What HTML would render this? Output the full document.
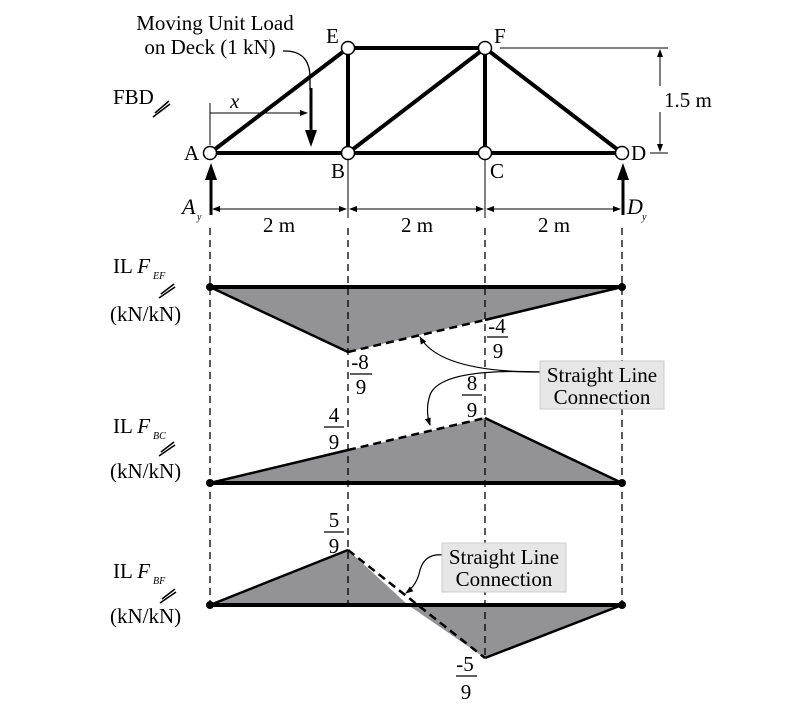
<!DOCTYPE html>
<html><head><meta charset="utf-8"><style>
html,body{margin:0;padding:0;background:#fff;}
svg{display:block;font-family:"Liberation Serif",serif;}
</style></head><body>
<svg width="800" height="715" viewBox="0 0 800 715" xmlns="http://www.w3.org/2000/svg">
<defs>
<marker id="sa" markerWidth="8" markerHeight="6" refX="7" refY="3" orient="auto" markerUnits="userSpaceOnUse"><path d="M0,0 L8,3 L0,6 Z" fill="#000"/></marker>
</defs>
<polygon points="210,287 348,352 622,287" fill="#939396"/>
<polygon points="210,483 485,418 622,483" fill="#939396"/>
<polygon points="210,605 348,550 408,605" fill="#939396"/>
<polygon points="408,605 485,658 622,605" fill="#939396"/>

<g stroke="#000" stroke-width="1.3" stroke-dasharray="7,5" fill="none">
<line x1="210" y1="228" x2="210" y2="605"/>
<line x1="348" y1="228" x2="348" y2="605"/>
<line x1="485" y1="228" x2="485" y2="658"/>
<line x1="622" y1="228" x2="622" y2="605"/>
</g>

<g stroke="#000" stroke-width="4" fill="none">
<line x1="210" y1="153" x2="622" y2="153"/>
<line x1="210" y1="153" x2="348" y2="48"/>
<line x1="348" y1="48" x2="485" y2="48"/>
<line x1="348" y1="48" x2="348" y2="153"/>
<line x1="348" y1="153" x2="485" y2="48"/>
<line x1="485" y1="48" x2="485" y2="153"/>
<line x1="485" y1="48" x2="622" y2="153"/>
</g>
<g fill="#fff" stroke="#000" stroke-width="1.5">
<circle cx="210" cy="153" r="6.5"/><circle cx="348" cy="153" r="6.5"/>
<circle cx="485" cy="153" r="6.5"/><circle cx="622" cy="153" r="6.5"/>
<circle cx="348" cy="48" r="6.5"/><circle cx="485" cy="48" r="6.5"/>
</g>
<g font-size="21">
<text x="184" y="160">A</text><text x="331" y="178">B</text>
<text x="490" y="178">C</text><text x="631" y="160">D</text>
<text x="326" y="43">E</text><text x="494" y="43">F</text>
<text x="215" y="30" text-anchor="middle">Moving Unit Load</text>
<text x="210" y="54" text-anchor="middle">on Deck (1 kN)</text>
<text x="113" y="104">FBD</text>
</g>
<g stroke="#000" stroke-width="1.5"><line x1="155" y1="113" x2="169" y2="101"/><line x1="153" y1="117" x2="170" y2="104"/></g>
<path d="M283,51 Q310,50 310,78 L310,90" stroke="#000" stroke-width="1.3" fill="none"/>
<line x1="311" y1="88" x2="311" y2="136" stroke="#000" stroke-width="3"/>
<path d="M305,130 L311,147 L317,130 Z" fill="#000"/>
<line x1="210" y1="103" x2="210" y2="145" stroke="#000" stroke-width="1"/>
<line x1="210" y1="113" x2="307" y2="113" stroke="#000" stroke-width="1" marker-end="url(#sa)"/>
<text x="230" y="108" font-size="21" font-style="italic">x</text>
<line x1="211" y1="215" x2="211" y2="176" stroke="#000" stroke-width="3"/>
<path d="M205,180 L211,163 L217,180 Z" fill="#000"/>
<line x1="623" y1="215" x2="623" y2="176" stroke="#000" stroke-width="3"/>
<path d="M617,180 L623,163 L629,180 Z" fill="#000"/>
<text x="182" y="214" font-size="22" font-style="italic">A</text><text x="197" y="220" font-size="10" font-style="italic">y</text>
<text x="627" y="214" font-size="22" font-style="italic">D</text><text x="642" y="220" font-size="10" font-style="italic">y</text>
<g stroke="#000" stroke-width="1">
<line x1="348" y1="160" x2="348" y2="218"/><line x1="485" y1="160" x2="485" y2="218"/>
<line x1="213" y1="209" x2="346" y2="209" marker-end="url(#sa)"/><line x1="346" y1="209" x2="213" y2="209" marker-end="url(#sa)"/>
<line x1="350" y1="209" x2="483" y2="209" marker-end="url(#sa)"/><line x1="483" y1="209" x2="350" y2="209" marker-end="url(#sa)"/>
<line x1="487" y1="209" x2="620" y2="209" marker-end="url(#sa)"/><line x1="620" y1="209" x2="487" y2="209" marker-end="url(#sa)"/>
<line x1="500" y1="48" x2="668" y2="48"/><line x1="650" y1="153" x2="668" y2="153"/>
<line x1="660" y1="100" x2="660" y2="50" marker-end="url(#sa)"/><line x1="660" y1="100" x2="660" y2="151" marker-end="url(#sa)"/>
</g>
<g font-size="21" text-anchor="middle">
<text x="279" y="232">2 m</text><text x="417" y="232">2 m</text><text x="554" y="232">2 m</text>
</g>
<rect x="652" y="86" width="66" height="26" fill="#fff"/>
<text x="664" y="107" font-size="21">1.5 m</text>

<line x1="210" y1="287" x2="622" y2="287" stroke="#000" stroke-width="4"/>
<circle cx="210" cy="287" r="4" fill="#000"/><circle cx="622" cy="287" r="4" fill="#000"/>
<line x1="210" y1="287" x2="348" y2="352" stroke="#000" stroke-width="2.5"/>
<line x1="348" y1="352" x2="485" y2="320" stroke="#000" stroke-width="2.5" stroke-dasharray="8,5"/>
<line x1="485" y1="320" x2="622" y2="287" stroke="#000" stroke-width="2.5"/>
<line x1="210" y1="483" x2="622" y2="483" stroke="#000" stroke-width="4"/>
<circle cx="210" cy="483" r="4" fill="#000"/><circle cx="622" cy="483" r="4" fill="#000"/>
<line x1="210" y1="483" x2="348" y2="450" stroke="#000" stroke-width="2.5"/>
<line x1="348" y1="450" x2="485" y2="418" stroke="#000" stroke-width="2.5" stroke-dasharray="8,5"/>
<line x1="485" y1="418" x2="622" y2="483" stroke="#000" stroke-width="2.5"/>
<line x1="210" y1="605" x2="622" y2="605" stroke="#000" stroke-width="4"/>
<circle cx="210" cy="605" r="4" fill="#000"/><circle cx="622" cy="605" r="4" fill="#000"/>
<line x1="210" y1="605" x2="348" y2="550" stroke="#000" stroke-width="2.5"/>
<line x1="348" y1="550" x2="485" y2="658" stroke="#000" stroke-width="2.5" stroke-dasharray="8,5"/>
<line x1="485" y1="658" x2="622" y2="605" stroke="#000" stroke-width="2.5"/>

<g font-size="21">
<text x="113" y="273">IL <tspan font-style="italic">F</tspan></text><text x="153" y="279" font-size="10" font-style="italic">EF</text>
<text x="110" y="321">(kN/kN)</text>
<text x="113" y="433">IL <tspan font-style="italic">F</tspan></text><text x="153" y="439" font-size="10" font-style="italic">BC</text>
<text x="110" y="478">(kN/kN)</text>
<text x="113" y="578">IL <tspan font-style="italic">F</tspan></text><text x="153" y="584" font-size="10" font-style="italic">BF</text>
<text x="110" y="623">(kN/kN)</text>
</g>
<g stroke="#000" stroke-width="1.5">
<line x1="161" y1="294" x2="174" y2="284"/><line x1="159" y1="298" x2="175" y2="287"/>
<line x1="161" y1="452" x2="174" y2="442"/><line x1="159" y1="456" x2="175" y2="445"/>
<line x1="162" y1="599" x2="175" y2="589"/><line x1="160" y1="603" x2="176" y2="592"/>
</g>

<g font-size="21" text-anchor="middle">
<text x="360" y="369">-8</text><line x1="350" y1="374" x2="372" y2="374" stroke="#000" stroke-width="1.2"/><text x="361" y="394">9</text>
<text x="497" y="333">-4</text><line x1="487" y1="337" x2="508" y2="337" stroke="#000" stroke-width="1.2"/><text x="498" y="358">9</text>
<text x="472" y="390">8</text><line x1="462" y1="395" x2="482" y2="395" stroke="#000" stroke-width="1.2"/><text x="472" y="417">9</text>
<text x="334" y="422">4</text><line x1="324" y1="427" x2="344" y2="427" stroke="#000" stroke-width="1.2"/><text x="334" y="449">9</text>
<text x="334" y="527">5</text><line x1="324" y1="532" x2="344" y2="532" stroke="#000" stroke-width="1.2"/><text x="334" y="553">9</text>
<text x="465" y="671">-5</text><line x1="456" y1="676" x2="477" y2="676" stroke="#000" stroke-width="1.2"/><text x="466" y="699">9</text>
</g>

<path d="M540,372 Q440,372 420,337" stroke="#000" stroke-width="1.2" fill="none" marker-end="url(#sa)"/>
<path d="M540,372 Q440,368 430,395 Q425,410 430,425" stroke="#000" stroke-width="1.2" fill="none" marker-end="url(#sa)"/>
<rect x="540" y="361" width="124" height="48" fill="#e6e6e6" stroke="#ccc" stroke-width="1"/>
<text x="602" y="382" font-size="21" text-anchor="middle">Straight Line</text>
<text x="602" y="404" font-size="21" text-anchor="middle">Connection</text>
<path d="M443,555 Q425,553 420,570 Q417,585 406,593" stroke="#000" stroke-width="1.2" fill="none" marker-end="url(#sa)"/>
<rect x="442" y="543" width="124" height="49" fill="#e6e6e6" stroke="#ccc" stroke-width="1"/>
<text x="504" y="564" font-size="21" text-anchor="middle">Straight Line</text>
<text x="504" y="586" font-size="21" text-anchor="middle">Connection</text>
</svg>
</body></html>
